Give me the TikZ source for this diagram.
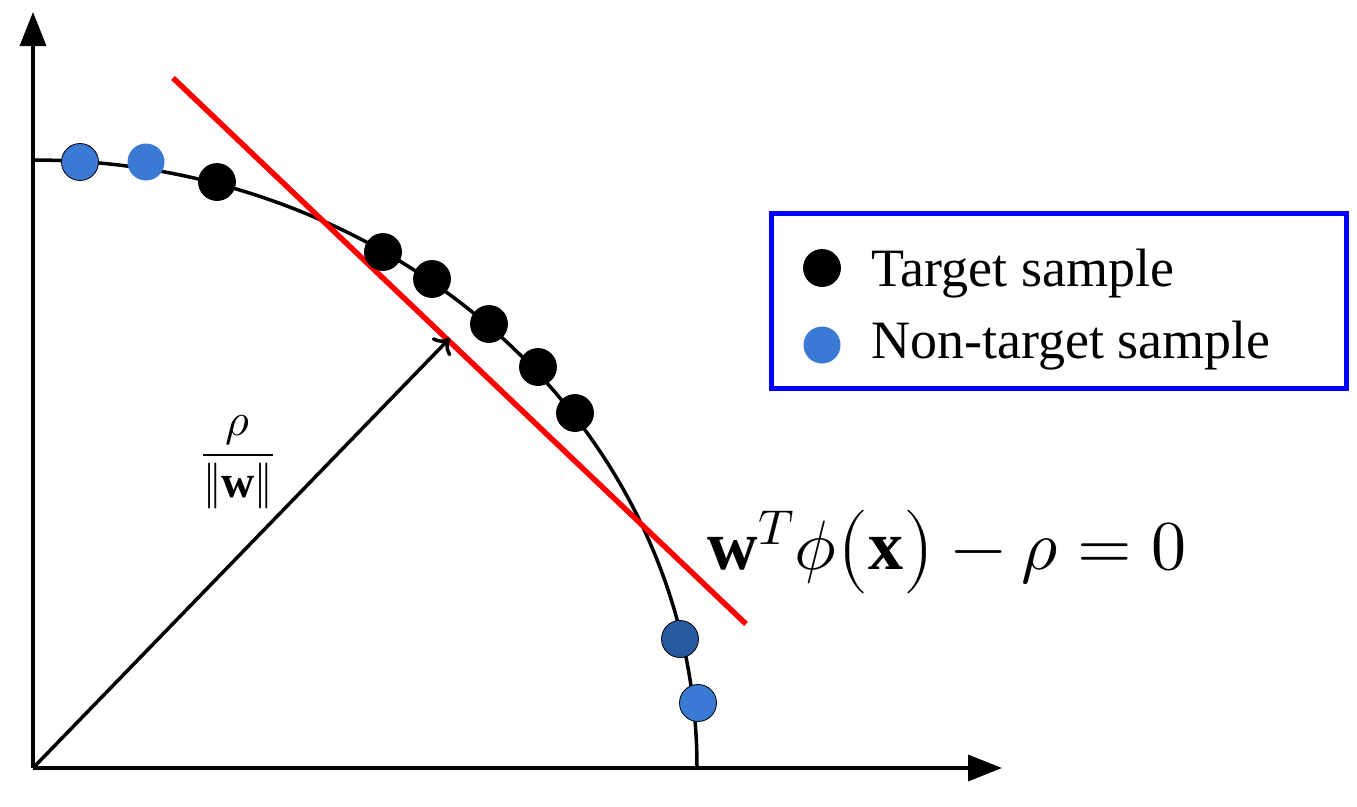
\documentclass[tikz,border=0pt]{standalone}
\usepackage{amsmath}
\usepackage{fontspec}
\usepackage{unicode-math}
\setmainfont{Liberation Serif}
\setmathfont{Latin Modern Math}
\usetikzlibrary{arrows.meta}
\definecolor{ptblue}{RGB}{58,122,212}
\definecolor{ptdark}{RGB}{40,90,160}
\tikzset{
  axis/.style={line width=3.5pt,-{Triangle[length=34pt,width=26pt]}},
  dot/.style={circle,draw=black,line width=0.8pt,minimum size=37pt,inner sep=0pt},
  tgt/.style={dot,fill=black},
  ntgt/.style={dot,fill=ptblue},
}
\begin{document}
\begin{tikzpicture}[x=1pt,y=-1pt]
\useasboundingbox (0,0) rectangle (1357,806);
\coordinate (O) at (33,768);
\coordinate (Y) at (33,12);
\coordinate (X) at (1002,768);
\draw[axis] (O) -- (Y);
\draw[axis] (O) -- (X);
% curve (quarter ellipse)
\draw[line width=3.5pt] (33,160) arc[start angle=-90,end angle=0,x radius=664,y radius=608];
% red line
\coordinate (R1) at (173,78);
\coordinate (R2) at (746,624);
\draw[red,line width=5.5pt] (R1) -- (R2);
% arrow to line
\coordinate (P) at (450,338);
\draw[line width=3.5pt,-{To[length=14pt,width=26pt]}] (O) -- (P);
\node (lbl) at (238,462) {\fontsize{46}{52}\selectfont $\dfrac{\rho}{\lVert\mathbf{w}\rVert}$};
\node[anchor=west] (eq) at (704,552) {\fontsize{70}{78}\selectfont $\mathbf{w}^{T}\phi\bigl(\mathbf{x}\bigr)-\rho=0$};
% samples
\node[ntgt] (n1) at (80,162) {};
\node[ntgt,draw=none] (n2) at (146,162) {};
\node[tgt] (t1) at (217,182) {};
\node[tgt] (t2) at (383,252) {};
\node[tgt] (t3) at (432,279) {};
\node[tgt] (t4) at (489,324) {};
\node[tgt] (t5) at (538,367) {};
\node[tgt] (t6) at (575,413) {};
\node[dot,fill=ptdark] (n3) at (680,639) {};
\node[ntgt] (n4) at (698,703) {};
% legend
\draw[blue,line width=5pt] (771,213) rectangle (1346,388);
\node[tgt] (lt) at (822,268) {};
\node[ntgt,draw=none] (ln) at (822,345) {};
\node[anchor=west] (ltt) at (868,274) {\fontsize{54}{58}\selectfont Target sample};
\node[anchor=west] (lnt) at (868,346) {\fontsize{54}{58}\selectfont Non-target sample};
\end{tikzpicture}
\end{document}
